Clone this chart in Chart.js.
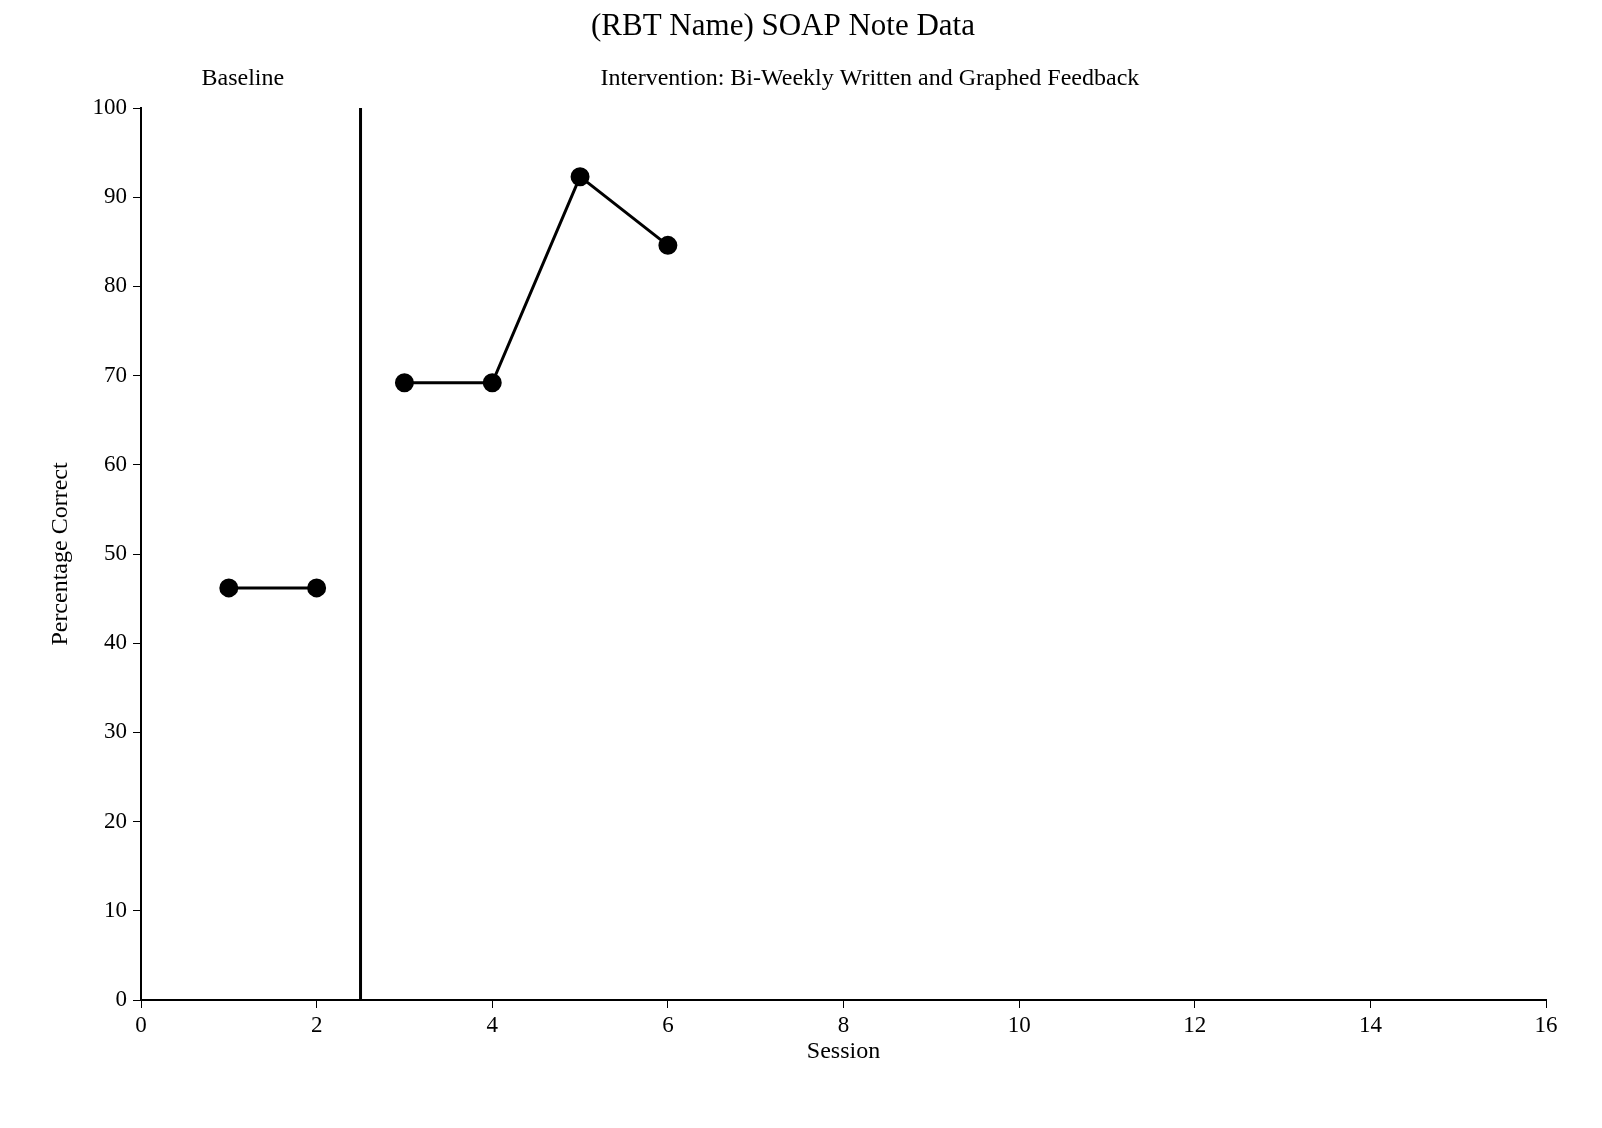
<!DOCTYPE html>
<html>
<head>
<meta charset="utf-8">
<script src="https://cdn.jsdelivr.net/npm/chart.js@4.4.1/dist/chart.umd.min.js"></script>
<style>
  html, body { margin: 0; padding: 0; background: #fff; }
  #wrap { width: 1602px; height: 1128px; }
</style>
</head>
<body>
<div id="wrap"><canvas id="grafico"></canvas></div>
<script>
// Datos
const sesionesBase = [1, 2];
const valoresBase = [46.2, 46.2];
const sesionesInterv = [3, 4, 5, 6];
const valoresInterv = [69.2, 69.2, 92.3, 84.6];
const lineaFase = 2.5;
const titulo = "(RBT Name) SOAP Note Data";
const etiquetasFase = [
  { texto: "Baseline", x: 1.16 },
  { texto: "Intervention: Bi-Weekly Written and Graphed Feedback", x: 8.3 }
];

const fuente = "'Liberation Serif', 'Times New Roman', serif";

const textosPlugin = {
  id: "textos",
  afterDraw(chart) {
    const ctx = chart.ctx;
    const xs = chart.scales.x;
    ctx.save();
    ctx.fillStyle = "#000";
    ctx.textAlign = "center";
    ctx.textBaseline = "middle";
    ctx.font = "31px " + fuente;
    ctx.fillText(titulo, 783, 27);
    ctx.font = "24px " + fuente;
    etiquetasFase.forEach(e => ctx.fillText(e.texto, xs.getPixelForValue(e.x), 79));
    ctx.restore();
  }
};

const puntos = (xs, ys) => xs.map((x, i) => ({ x, y: ys[i] }));
const estiloSerie = {
  showLine: true,
  borderColor: "#000",
  backgroundColor: "#000",
  borderWidth: 3,
  pointRadius: 8,
  pointHoverRadius: 8,
  tension: 0
};

new Chart(document.getElementById("grafico"), {
  type: "scatter",
  data: {
    datasets: [
      { ...estiloSerie, data: puntos(sesionesBase, valoresBase) },
      { ...estiloSerie, data: puntos(sesionesInterv, valoresInterv) },
      {
        data: [{ x: lineaFase, y: 0 }, { x: lineaFase, y: 100 }],
        showLine: true, borderColor: "#000", borderWidth: 3, pointRadius: 0
      }
    ]
  },
  options: {
    responsive: true,
    maintainAspectRatio: false,
    animation: false,
    layout: { padding: { top: 108, right: 56, bottom: 62, left: 46 } },
    plugins: { legend: { display: false }, tooltip: { enabled: false } },
    scales: {
      x: {
        type: "linear", min: 0, max: 16,
        ticks: { stepSize: 2, color: "#000", font: { family: fuente, size: 23 }, padding: 4 },
        grid: { drawOnChartArea: false, color: "#000", tickLength: 8, tickColor: "#000" },
        border: { color: "#000", width: 2 },
        title: { display: true, text: "Session", color: "#000", font: { family: fuente, size: 24 }, padding: 0 },
        afterFit: s => { s.height = 66; }
      },
      y: {
        min: 0, max: 100,
        ticks: { stepSize: 10, color: "#000", font: { family: fuente, size: 23 }, padding: 6 },
        grid: { drawOnChartArea: false, color: "#000", tickLength: 8, tickColor: "#000" },
        border: { color: "#000", width: 2 },
        title: { display: true, text: "Percentage Correct", color: "#000", font: { family: fuente, size: 24 }, padding: 0 },
        afterFit: s => { s.width = 95; }
      }
    }
  },
  plugins: [textosPlugin]
});
</script>
</body>
</html>
